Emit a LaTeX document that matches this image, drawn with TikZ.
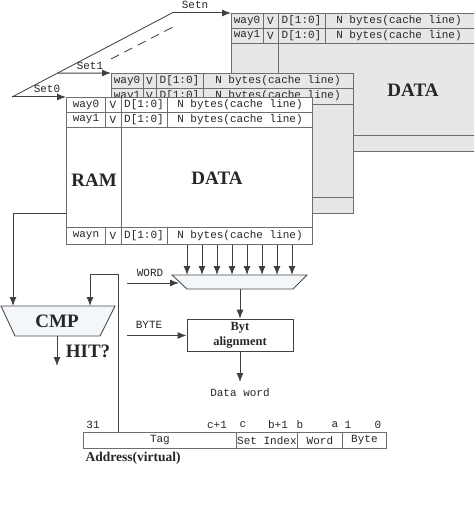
\documentclass[tikz,border=0pt]{standalone}
\usepackage{fontspec}
\setmainfont{Liberation Serif}
\setmonofont{Liberation Mono}
\usetikzlibrary{arrows.meta,calc}

\definecolor{setgray}{HTML}{E7E8E5}
\definecolor{linegray}{HTML}{6E6E6E}
\definecolor{muxfill}{HTML}{F4F7F9}

\begin{document}
\begin{tikzpicture}[x=1pt,y=-1pt,
  setbox/.style={draw=linegray,line width=0.9pt,anchor=north west,inner sep=0pt},
  grid/.style={draw=linegray,line width=0.9pt},
  cell/.style={font=\ttfamily\fontsize{11}{11}\selectfont,text=black!85,inner sep=1pt},
  big/.style={font=\bfseries\fontsize{19}{19}\selectfont,text=black!85},
  sig/.style={draw=black!75,line width=1pt,-{Latex[length=9pt,width=7pt]}},
  wire/.style={draw=black!70,line width=0.9pt},
  field/.style={draw=linegray,line width=0.8pt,anchor=north west,minimum height=16pt,inner sep=0pt,
    font=\ttfamily\fontsize{11}{11}\selectfont,text=black!85}]

\useasboundingbox (0,0) rectangle (474,513);
\clip (0,0) rectangle (474,513);

% back set (Setn)
\node[setbox,fill=setgray,minimum width=249pt,minimum height=138pt] (back) at (231,13) {};
\draw[grid] (231,28) -- (480,28) (231,43) -- (480,43) (231,135) -- (480,135);
\draw[grid] (263,13) -- (263,43) (325,13) -- (325,43) (278,13) -- (278,151);
\foreach \w/\y in {way0/20.5,way1/35.5} {
  \node[cell] (back-\w) at (247,\y) {\w};
  \node[cell] (back-v-\w) at (270.5,\y) {V};
  \node[cell] (back-d-\w) at (301.5,\y) {D[1:0]};
  \node[cell] (back-n-\w) at (399,\y) {N bytes(cache line)};
}
\node[big] (back-data) at (413,90) {DATA};

% middle set (Set1)
\node[setbox,fill=setgray,minimum width=242pt,minimum height=140pt] (mid) at (111,73) {};
\draw[grid] (111,88) -- (353,88) (111,104) -- (353,104) (111,197) -- (353,197);
\draw[grid] (143,73) -- (143,104) (203,73) -- (203,104) (156,73) -- (156,213);
\draw[grid] (143,197) -- (143,213) (203,197) -- (203,213);
\foreach \w/\y in {way0/80.5,way1/96} {
  \node[cell] (mid-\w) at (127,\y) {\w};
  \node[cell] (mid-v-\w) at (149.5,\y) {V};
  \node[cell] (mid-d-\w) at (179.5,\y) {D[1:0]};
  \node[cell] (mid-n-\w) at (278,\y) {N bytes(cache line)};
}

% front set (Set0)
\node[setbox,fill=white,minimum width=246pt,minimum height=147pt] (front) at (66,97) {};
\draw[grid] (66,112) -- (312,112) (66,127) -- (312,127) (66,227) -- (312,227);
\draw[grid] (105,97) -- (105,127) (167,97) -- (167,127) (121,97) -- (121,244);
\draw[grid] (105,227) -- (105,244) (167,227) -- (167,244);
\foreach \w/\y in {way0/104.5,way1/119.5,wayn/235.5} {
  \node[cell] (front-\w) at (86,\y) {\w};
  \node[cell] (front-v-\w) at (113,\y) {V};
  \node[cell] (front-d-\w) at (144,\y) {D[1:0]};
  \node[cell] (front-n-\w) at (240,\y) {N bytes(cache line)};
}
\node[big] (ram) at (94,180) {RAM};
\node[big] (front-data) at (217,178) {DATA};

% set select lines
\coordinate (s0) at (12,97);
\coordinate (sn) at (172,13);
\coordinate (s1) at ($(s0)!0.285!(sn)$);
\draw[wire] (s0) -- (sn);
\draw[sig] (sn) -- (back.north west);
\draw[sig] (s1) -- (mid.north west);
\draw[sig] (s0) -- (front.north west);
\draw[wire,dash pattern=on 9pt off 6pt] (111,59) -- (173,27);
\node[cell] (setn) at (195,5) {Setn};
\node[cell] (set1) at (90,66) {Set1};
\node[cell] (set0) at (47,89) {Set0};

% compare
\filldraw[wire,fill=muxfill] (1,306) -- (115,306) -- (100,336) -- (15,336) -- cycle;
\node[big] (cmp) at (57,321) {CMP};
\coordinate (ramout) at (66,213);
\coordinate (cmpin1) at (13,306);
\coordinate (cmpin2) at (90,306);
\coordinate (cmpout) at (57,336);
\coordinate (hittip) at (57,366);
\draw[sig] (ramout) -| (cmpin1);
\node[big] (hit) at (88,351) {HIT?};
\draw[sig] (cmpout) -- (hittip);

% word select
\filldraw[wire,fill=muxfill] (172,275) -- (307,275) -- (293,289) -- (187,289) -- cycle;
\coordinate (muxtop) at (240,275);
\coordinate (muxout) at (240,289);
\coordinate (muxin) at (179,283);
\coordinate (wordsrc) at (127,283);
\foreach \x in {187,202,...,292}
  \draw[sig] (\x,0 |- front.south) -- (\x,0 |- muxtop);
\draw[sig] (wordsrc) -- (muxin);
\node[cell] (word) at (150,273) {WORD};

% byte alignment
\node[draw=black!75,line width=1pt,minimum width=106pt,minimum height=31pt,align=center,
  font=\bfseries\fontsize{12.5}{15}\selectfont,text=black!85] (align) at (240,335.5) {Byt\\alignment};
\coordinate (bytesrc) at (127,335.5);
\coordinate (dwtip) at (240,382);
\draw[sig] (muxout) -- (align.north);
\draw[sig] (bytesrc) -- (align.west);
\node[cell] (byte) at (149,325) {BYTE};
\draw[sig] (align.south) -- (dwtip);
\node[cell] (dataword) at (240,393) {Data word};

% address
\node[field,minimum width=153pt] (tag) at (83,432) {Tag};
\node[field,minimum width=61pt] (setidx) at (236,432) {Set Index};
\node[field,minimum width=45pt] (wordf) at (297,432) {Word};
\node[field,minimum width=44pt] (bytef) at (342,432) {Byte};
\foreach \t/\x in {31/93,c+1/217,c/243,b+1/278,b/300,a/335,1/348,0/378}
  \node[cell] (bit-\x) at (\x,425) {\t};
\coordinate (tagtap) at (118,432);
\draw[sig] (tagtap) -- ++(0,-158) -| (cmpin2);
\node[anchor=west,font=\bfseries\fontsize{13.5}{13.5}\selectfont,text=black!85] (addr) at (82,458) {Address(virtual)};

\end{tikzpicture}
\end{document}
